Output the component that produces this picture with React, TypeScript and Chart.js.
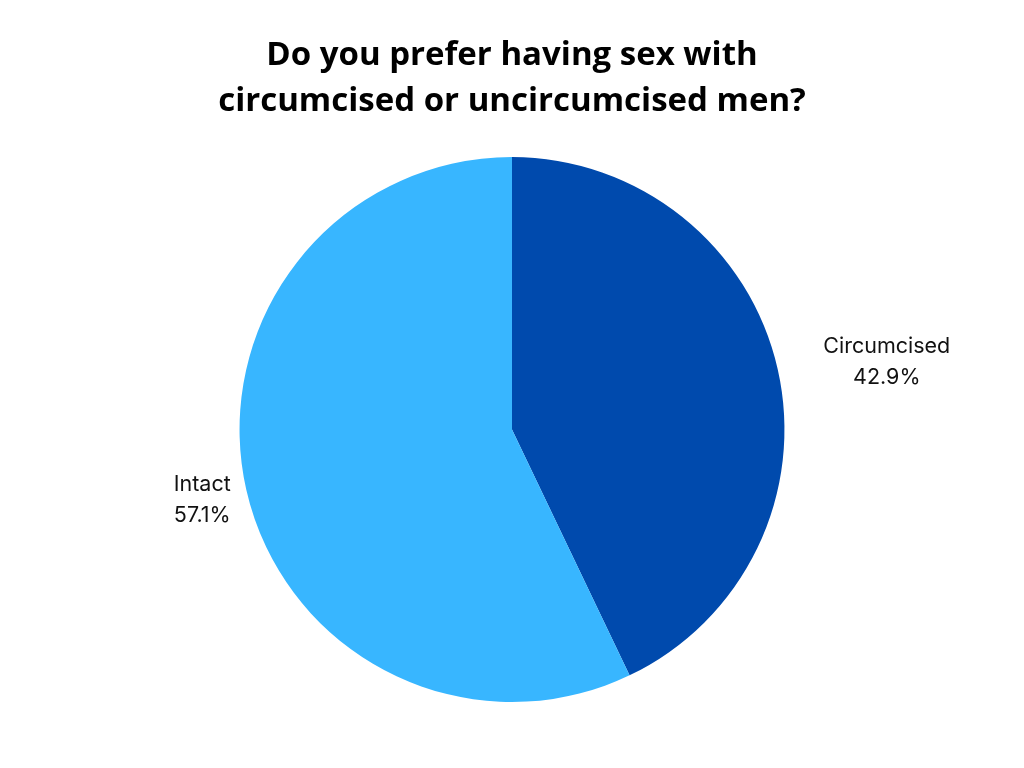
import React, { useEffect, useRef } from "react";
import { Chart, registerables } from "chart.js";

Chart.register(...registerables);

const categories = ["Circumcised", "Intact"];
const values = [42.9, 57.1];
const colors = ["#004AAD", "#38B6FF"];
const titleLines = ["Do you prefer having sex with", "circumcised or uncircumcised men?"];

const labelPlugin = {
  id: "outerLabels",
  afterDraw(chart: any) {
    const ctx = chart.ctx;
    const meta = chart.getDatasetMeta(0);
    ctx.save();
    ctx.font = "400 21.5px Inter, 'Open Sans', sans-serif";
    ctx.fillStyle = "#111111";
    ctx.textAlign = "center";
    ctx.textBaseline = "middle";
    meta.data.forEach((arc: any, i: number) => {
      const p = arc.getProps(["x", "y", "startAngle", "endAngle", "outerRadius"], true);
      const a = (p.startAngle + p.endAngle) / 2;
      const l1 = categories[i];
      const l2 = values[i].toFixed(1) + "%";
      const w = Math.max(ctx.measureText(l1).width, ctx.measureText(l2).width);
      const sign = Math.cos(a) >= 0 ? 1 : -1;
      const x = p.x + Math.cos(a) * p.outerRadius * 1.115 + sign * w / 2 + 15;
      const y = p.y + Math.sin(a) * p.outerRadius * 1.15;
      ctx.fillText(l1, x, y - 14);
      ctx.fillText(l2, x, y + 17);
    });
    ctx.restore();
  },
};

export default function App() {
  const ref = useRef<HTMLCanvasElement>(null);
  useEffect(() => {
    document.body.style.margin = "0";
    const chart = new Chart(ref.current!, {
      type: "pie",
      data: {
        labels: categories,
        datasets: [{ data: values, backgroundColor: colors, borderWidth: 0 }],
      },
      options: {
        animation: false,
        responsive: false,
        layout: { padding: { bottom: 66 } },
        plugins: {
          legend: { display: false },
          tooltip: { enabled: false },
          title: {
            display: true,
            text: titleLines,
            color: "#000000",
            font: { family: "'Open Sans', sans-serif", size: 33, weight: "bold", lineHeight: 1.38 },
            padding: { top: 33, bottom: 33 },
          },
        },
      },
      plugins: [labelPlugin],
    });
    return () => chart.destroy();
  }, []);
  return (
    <div style={{ width: 1024, height: 768, background: "#ffffff" }}>
      <canvas ref={ref} width={1024} height={768} style={{ display: "block" }} />
    </div>
  );
}
